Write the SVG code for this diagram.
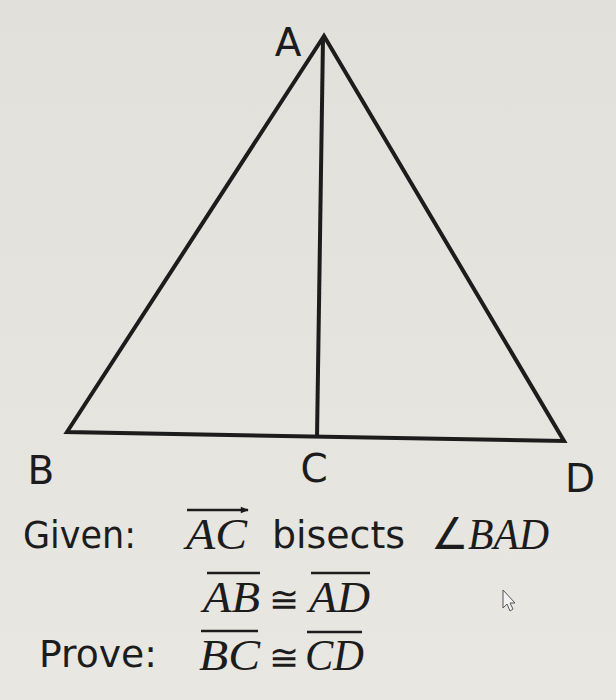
<svg xmlns="http://www.w3.org/2000/svg" width="616" height="700" viewBox="0 0 616 700">
<defs>
<linearGradient id="bg" x1="0" y1="0" x2="0" y2="1">
<stop offset="0" stop-color="#e2e0db"/>
<stop offset="1" stop-color="#e9e7e2"/>
</linearGradient>
<marker id="ah" viewBox="0 0 10 10" refX="9" refY="5" markerWidth="10" markerHeight="8" orient="auto" markerUnits="userSpaceOnUse">
<path d="M0,1 L10,5 L0,9 Z" fill="#1a1a1a"/>
</marker>
</defs>
<style>
.ln{stroke:#1c1c1c;stroke-width:4;fill:none;stroke-linejoin:miter}
.lbl{font-family:"DejaVu Sans","Open Sans",sans-serif;font-size:39px;fill:#1c1c1c;text-anchor:middle}
.txt{font-family:"DejaVu Sans","Open Sans",sans-serif;font-size:37px;fill:#1c1c1c}
.m{font-family:"Liberation Serif","Times New Roman",serif;font-style:italic;font-size:44px;fill:#1c1c1c}
.s{font-family:"Liberation Serif","DejaVu Serif",serif;font-size:36px;fill:#1c1c1c}
.ov{stroke:#1c1c1c;stroke-width:2.5}
</style>
<rect width="616" height="700" fill="url(#bg)"/>
<g id="triangle">
<path class="ln" d="M324,36 L67,432 L564,441 Z"/>
<line class="ln" x1="323" y1="38" x2="317" y2="438"/>
</g>
<g id="labels">
<text class="lbl" x="288" y="56">A</text>
<text class="lbl" x="41" y="484">B</text>
<text class="lbl" x="314" y="482">C</text>
<text class="lbl" x="580" y="492">D</text>
</g>
<g id="given">
<text class="txt" x="23" y="548" textLength="113" lengthAdjust="spacingAndGlyphs">Given:</text>
<line x1="187" y1="510" x2="248" y2="510" stroke="#1c1c1c" stroke-width="2.5" marker-end="url(#ah)"/>
<text class="m" x="186" y="549" textLength="61" lengthAdjust="spacingAndGlyphs">AC</text>
<text class="txt" x="272" y="548" textLength="133" lengthAdjust="spacingAndGlyphs">bisects</text>
<text class="m" x="431" y="549" textLength="118" lengthAdjust="spacingAndGlyphs"><tspan style="font-style:normal">∠</tspan>BAD</text>
<line class="ov" x1="207" y1="573" x2="260" y2="573"/>
<text class="m" x="203" y="612" textLength="57" lengthAdjust="spacingAndGlyphs">AB</text>
<text class="s" x="269" y="612">≅</text>
<line class="ov" x1="311" y1="573" x2="370" y2="573"/>
<text class="m" x="309" y="612" textLength="61" lengthAdjust="spacingAndGlyphs">AD</text>
</g>
<g id="prove">
<text class="txt" x="39" y="667" textLength="118" lengthAdjust="spacingAndGlyphs">Prove:</text>
<line class="ov" x1="201" y1="631" x2="258" y2="631"/>
<text class="m" x="199" y="670" textLength="61" lengthAdjust="spacingAndGlyphs">BC</text>
<text class="s" x="269" y="670">≅</text>
<line class="ov" x1="307" y1="632" x2="362" y2="632"/>
<text class="m" x="305" y="670" textLength="59" lengthAdjust="spacingAndGlyphs">CD</text>
</g>
<g id="cursor">
<path d="M503,590 L503,608 L507,604 L510,611 L513,609 L510,603 L515,603 Z" fill="#f2f2f2" stroke="#555" stroke-width="1"/>
</g>
</svg>
